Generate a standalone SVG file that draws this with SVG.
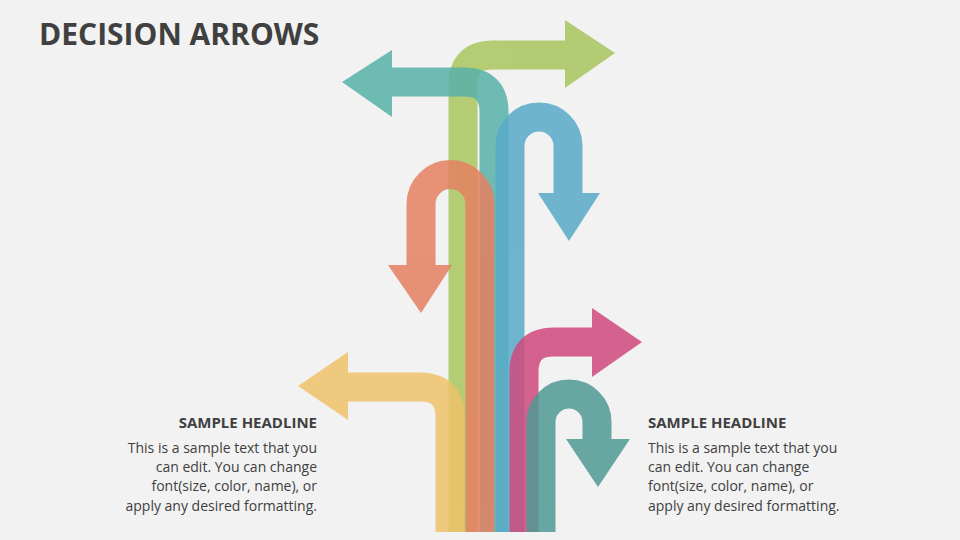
<svg xmlns="http://www.w3.org/2000/svg" width="960" height="540" viewBox="0 0 960 540">
<style>
.s{fill:none;stroke-width:29}
.t{font-family:"Open Sans","Liberation Sans",sans-serif;fill:#404040}
.h{font-size:15px;font-weight:bold}
.b{font-size:14px}
</style>
<rect width="960" height="540" fill="#f2f2f2"/>
<text class="t" x="39" y="45" font-size="30" font-weight="bold">DECISION ARROWS</text>
<g id="connectors">
<g id="green" opacity="0.85"><path class="s" stroke="#a9c55e" d="M463,532V85Q463,55 493,55H566"/><polygon fill="#a9c55e" points="565,20 615,53 565,88"/></g>
<g id="teal" opacity="0.85"><path class="s" stroke="#58b2aa" d="M494,532V112Q494,82 464,82H392"/><polygon fill="#58b2aa" points="392,50 342,82 392,117"/></g>
<g id="blue" opacity="0.85"><path class="s" stroke="#58aac9" d="M510,532V146A29,29 0 0 1 568,146V194"/><polygon fill="#58aac9" points="538,193 600,193 569,241"/></g>
<g id="orange" opacity="0.85"><path class="s" stroke="#e58060" d="M480,532V204A29.5,29.5 0 0 0 421,204V266"/><polygon fill="#e58060" points="388,265 452,265 421,313"/></g>
<g id="yellow" opacity="0.85"><path class="s" stroke="#eec26a" d="M450,532V417Q450,387 420,387H348"/><polygon fill="#eec26a" points="348,352 298,386 348,420"/></g>
<g id="pink" opacity="0.85"><path class="s" stroke="#d04a7d" d="M524,532V372Q524,342 554,342H593"/><polygon fill="#d04a7d" points="592,308 642,342 592,377"/></g>
<g id="darkteal" opacity="0.85"><path class="s" stroke="#4f9994" d="M541,532V422A28,28 0 0 1 597,422V441"/><polygon fill="#4f9994" points="566,439 630,439 598,487"/></g>
</g>
<g id="left-text" class="t" text-anchor="end">
<text class="h" x="317" y="428">SAMPLE HEADLINE</text>
<text class="b" x="317" y="453">This is a sample text that you</text>
<text class="b" x="317" y="472">can edit. You can change</text>
<text class="b" x="317" y="491">font(size, color, name), or</text>
<text class="b" x="317" y="511">apply any desired formatting.</text>
</g>
<g id="right-text" class="t">
<text class="h" x="648" y="428">SAMPLE HEADLINE</text>
<text class="b" x="648" y="453">This is a sample text that you</text>
<text class="b" x="648" y="472">can edit. You can change</text>
<text class="b" x="648" y="491">font(size, color, name), or</text>
<text class="b" x="648" y="511">apply any desired formatting.</text>
</g>
</svg>
